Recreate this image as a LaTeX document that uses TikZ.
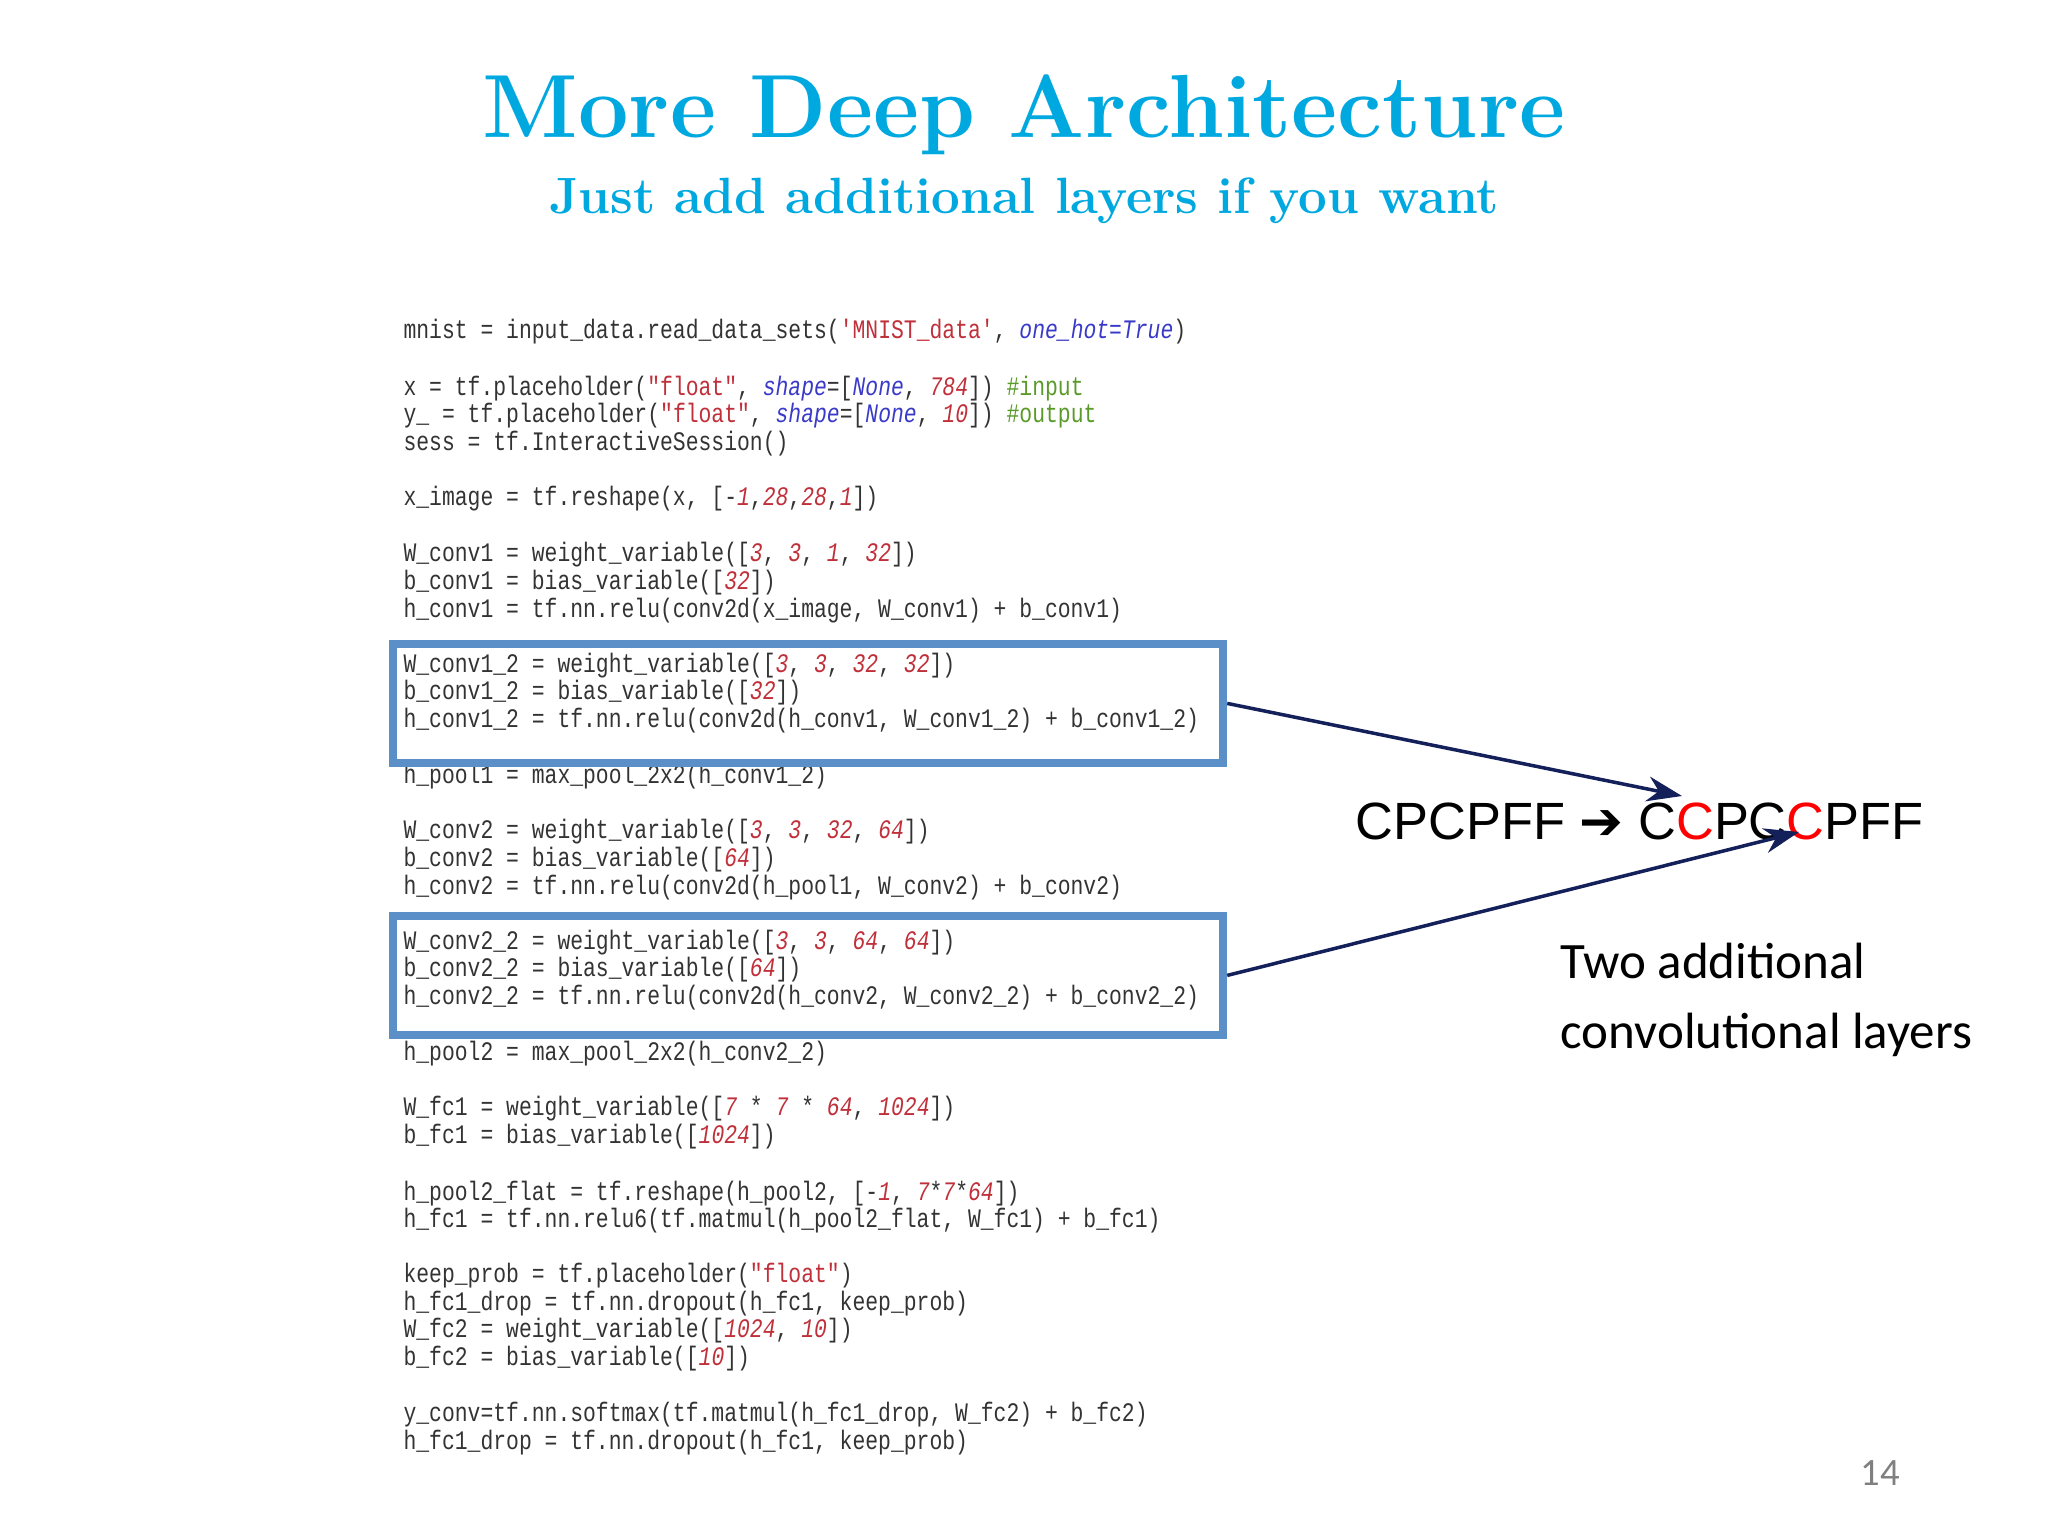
\documentclass[tikz,border=0pt]{standalone}
\usepackage{fontspec}
\newfontfamily\sansfont{Liberation Sans}
\newfontfamily\codefont{Liberation Mono}
\newfontfamily\calfont{Carlito}
\newfontfamily\dejafont{DejaVu Sans}
\usetikzlibrary{arrows.meta, positioning}
\definecolor{titleblue}{HTML}{00A8E0}
\definecolor{boxblue}{HTML}{5B8FC7}
\definecolor{arrownavy}{HTML}{14205A}
\definecolor{codegrey}{HTML}{333333}
\definecolor{codered}{HTML}{C0303A}
\definecolor{codeblue}{HTML}{3A3AC8}
\definecolor{codegreen}{HTML}{5A9A2A}
\newcommand{\cs}[1]{\textcolor{codered}{#1}}
\newcommand{\cn}[1]{\textcolor{codered}{\itshape #1}}
\newcommand{\ck}[1]{\textcolor{codeblue}{\itshape #1}}
\newcommand{\cc}[1]{\textcolor{codegreen}{#1}}
\tikzset{%
    code/.style={anchor=west, inner sep=0pt, xscale=0.8, text=codegrey,
                 font=\codefont\fontsize{7.6}{9}\selectfont},
    codebox/.style={draw=boxblue, line width=2.2pt, inner sep=0pt, anchor=north west},
    pointer/.style={draw=arrownavy, line width=1pt, -{Stealth[length=3.5mm,width=2.5mm]}},
}
\begin{document}
\begin{tikzpicture}[x=0.01cm,y=-0.01cm]
		\useasboundingbox (0,0) rectangle (2048,1536);

		\node[text=titleblue, font=\rmfamily\fontsize{25.5}{30}\selectfont\bfseries] (title) at (1024,115) {More Deep Architecture};
		\node[text=titleblue, font=\rmfamily\fontsize{14.5}{18}\selectfont\bfseries] (subtitle) at (1024,201) {Just add additional layers if you want};

		% code listing
		\node[code] (l1) at (403,332) {mnist = input\_data.read\_data\_sets(\cs{'MNIST\_data'}, \ck{one\_hot=True})};
		\node[code] (l2) at (403,389) {x = tf.placeholder(\cs{"float"}, \ck{shape}=[\ck{None}, \cn{784}]) \cc{\#input}};
		\node[code] (l3) at (403,416) {y\_ = tf.placeholder(\cs{"float"}, \ck{shape}=[\ck{None}, \cn{10}]) \cc{\#output}};
		\node[code] (l4) at (403,444) {sess = tf.InteractiveSession()};
		\node[code] (l5) at (403,499) {x\_image = tf.reshape(x, [-\cn{1},\cn{28},\cn{28},\cn{1}])};
		\node[code] (l6) at (403,555) {W\_conv1 = weight\_variable([\cn{3}, \cn{3}, \cn{1}, \cn{32}])};
		\node[code] (l7) at (403,583) {b\_conv1 = bias\_variable([\cn{32}])};
		\node[code] (l8) at (403,611) {h\_conv1 = tf.nn.relu(conv2d(x\_image, W\_conv1) + b\_conv1)};
		\node[code] (l9) at (403,666) {W\_conv1\_2 = weight\_variable([\cn{3}, \cn{3}, \cn{32}, \cn{32}])};
		\node[code] (l10) at (403,693) {b\_conv1\_2 = bias\_variable([\cn{32}])};
		\node[code] (l11) at (403,721) {h\_conv1\_2 = tf.nn.relu(conv2d(h\_conv1, W\_conv1\_2) + b\_conv1\_2)};
		\node[code] (l12) at (403,777) {h\_pool1 = max\_pool\_2x2(h\_conv1\_2)};
		\node[code] (l13) at (403,832) {W\_conv2 = weight\_variable([\cn{3}, \cn{3}, \cn{32}, \cn{64}])};
		\node[code] (l14) at (403,860) {b\_conv2 = bias\_variable([\cn{64}])};
		\node[code] (l15) at (403,888) {h\_conv2 = tf.nn.relu(conv2d(h\_pool1, W\_conv2) + b\_conv2)};
		\node[code] (l16) at (403,943) {W\_conv2\_2 = weight\_variable([\cn{3}, \cn{3}, \cn{64}, \cn{64}])};
		\node[code] (l17) at (403,970) {b\_conv2\_2 = bias\_variable([\cn{64}])};
		\node[code] (l18) at (403,998) {h\_conv2\_2 = tf.nn.relu(conv2d(h\_conv2, W\_conv2\_2) + b\_conv2\_2)};
		\node[code] (l19) at (403,1054) {h\_pool2 = max\_pool\_2x2(h\_conv2\_2)};
		\node[code] (l20) at (403,1109) {W\_fc1 = weight\_variable([\cn{7} * \cn{7} * \cn{64}, \cn{1024}])};
		\node[code] (l21) at (403,1137) {b\_fc1 = bias\_variable([\cn{1024}])};
		\node[code] (l22) at (403,1194) {h\_pool2\_flat = tf.reshape(h\_pool2, [-\cn{1}, \cn{7}*\cn{7}*\cn{64}])};
		\node[code] (l23) at (403,1221) {h\_fc1 = tf.nn.relu6(tf.matmul(h\_pool2\_flat, W\_fc1) + b\_fc1)};
		\node[code] (l24) at (403,1276) {keep\_prob = tf.placeholder(\cs{"float"})};
		\node[code] (l25) at (403,1304) {h\_fc1\_drop = tf.nn.dropout(h\_fc1, keep\_prob)};
		\node[code] (l26) at (403,1331) {W\_fc2 = weight\_variable([\cn{1024}, \cn{10}])};
		\node[code] (l27) at (403,1359) {b\_fc2 = bias\_variable([\cn{10}])};
		\node[code] (l28) at (403,1415) {y\_conv=tf.nn.softmax(tf.matmul(h\_fc1\_drop, W\_fc2) + b\_fc2)};
		\node[code] (l29) at (403,1443) {h\_fc1\_drop = tf.nn.dropout(h\_fc1, keep\_prob)};

		% highlighted blocks
		\node[codebox, minimum width=8.3cm, minimum height=1.19cm] (box1) at (389,640) {};
		\node[codebox, minimum width=8.3cm, minimum height=1.19cm] (box2) at (389,912) {};

		% layer strings
		\node[anchor=west, inner sep=0pt, font=\sansfont\fontsize{14.9}{18}\selectfont] (seq) at (1355,821)
			{CPCPFF {\dejafont\char"2794} C\textcolor{red}{C}PC\textcolor{red}{C}PFF};
		\coordinate (tip1) at (1682,796);
		\coordinate (tip2) at (1799,832);

		\draw[pointer] (box1.east) -- (tip1);
		\draw[pointer] (box2.east) -- (tip2);

		\node[anchor=north west, align=left, inner sep=0pt, font=\calfont\fontsize{14.5}{20}\selectfont] (note) at (1560,942)
			{Two additional\\convolutional layers};

		\node[text=gray, font=\calfont\fontsize{11}{13}\selectfont] (page) at (1880,1473) {14};
\end{tikzpicture}
\end{document}
